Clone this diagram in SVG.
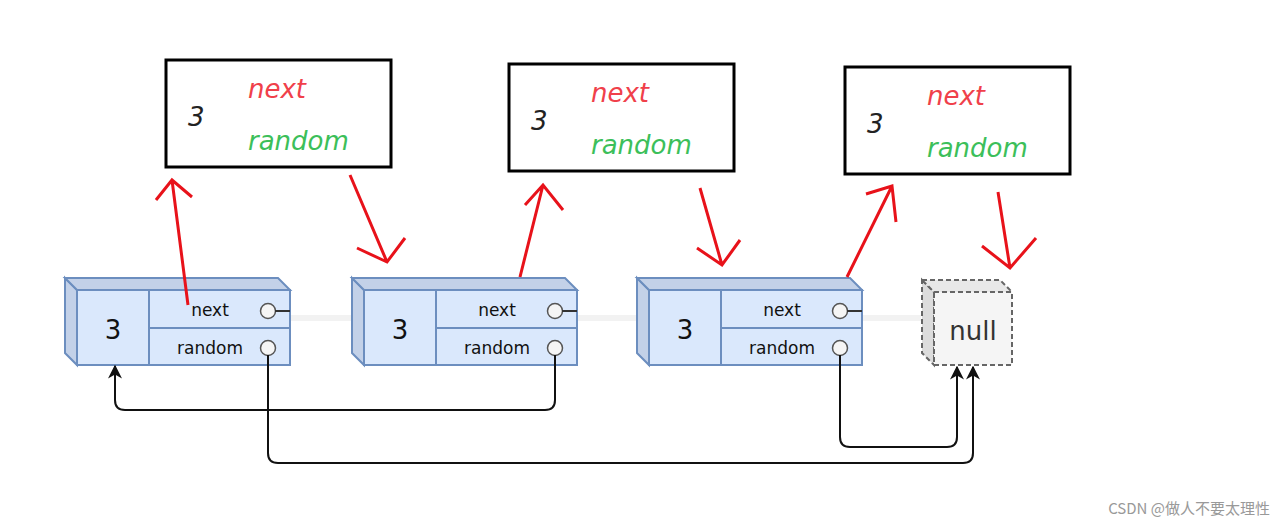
<svg xmlns="http://www.w3.org/2000/svg" width="1288" height="528" viewBox="0 0 1288 528">
<style>
.face{fill:#dae8fc;stroke:#6c8ebf;stroke-width:2}
.side{fill:#c3d1e8;stroke:#6c8ebf;stroke-width:2}
.pin{fill:#f5f5f5;stroke:#555;stroke-width:1.5}
.lbl{font-family:"DejaVu Sans",sans-serif;font-size:17px;fill:#111;text-anchor:middle}
.val{font-family:"DejaVu Sans",sans-serif;font-size:26px;fill:#111;text-anchor:middle}
.box{fill:#fff;stroke:#000;stroke-width:3}
.h{font-family:"DejaVu Sans",sans-serif;font-style:italic;font-size:26px}
.red{stroke:#e8121a;stroke-width:3;fill:none}
.blk{stroke:#111;stroke-width:2;fill:none}
</style>
<defs>
<marker id="ah" viewBox="0 0 10 10" refX="9" refY="5" markerWidth="7" markerHeight="7" orient="auto"><path d="M0,0 L10,5 L0,10 L3,5 z" fill="#111"/></marker>
<g id="node">
<path class="side" d="M0,0 L12,12 L12,87 L0,75 Z"/>
<path class="side" d="M0,0 L213,0 L225,12 L12,12 Z"/>
<rect class="face" x="12" y="12" width="72" height="75"/>
<rect class="face" x="84" y="12" width="141" height="38"/>
<rect class="face" x="84" y="50" width="141" height="37"/>
<text class="val" x="48" y="61">3</text>
<text class="lbl" x="145" y="38">next</text>
<text class="lbl" x="145" y="76">random</text>
<circle class="pin" cx="203" cy="33" r="7.5"/>
<circle class="pin" cx="203" cy="70" r="7.5"/>
</g>
<g id="card">
<rect class="box" x="0" y="0" width="225" height="107"/>
<text class="h" x="22" y="66" fill="#222">3</text>
<text class="h" x="82" y="38" fill="#f0404a">next</text>
<text class="h" x="82" y="90" fill="#3cbf5a">random</text>
</g>
</defs>
<g id="n1"><use href="#node" x="65" y="278"/></g>
<g id="n2"><use href="#node" x="352" y="278"/></g>
<g id="n3"><use href="#node" x="637" y="278"/></g>
<g id="null">
<path d="M922,280 L934,292 L934,365 L922,353 Z" fill="#dcdcdc" stroke="#666" stroke-width="2" stroke-dasharray="5,3"/>
<path d="M922,280 L1000,280 L1012,292 L934,292 Z" fill="#e8e8e8" stroke="#666" stroke-width="2" stroke-dasharray="5,3"/>
<rect x="934" y="292" width="78" height="73" fill="#f5f5f5" stroke="#666" stroke-width="2" stroke-dasharray="5,3"/>
<text x="973" y="340" font-family="DejaVu Sans,sans-serif" font-size="26" fill="#333" text-anchor="middle">null</text>
</g>
<g id="c1"><use href="#card" x="166" y="60"/></g>
<g id="c2"><use href="#card" x="509" y="64"/></g>
<g id="c3"><use href="#card" x="845" y="67"/></g>
<g id="connectors">
<path d="M275,311 H290 M562,311 H577 M847,311 H862" stroke="#333" stroke-width="2"/>
<path d="M291,318 H351 M578,318 H636 M863,318 H921" stroke="#f2f2f2" stroke-width="6"/>
<path class="blk" marker-end="url(#ah)" d="M555,355 V400 Q555,410 545,410 H125 Q115,410 115,400 V366"/>
<path class="blk" marker-end="url(#ah)" d="M268,355 V453 Q268,463 278,463 H963 Q973,463 973,453 V367"/>
<path class="blk" marker-end="url(#ah)" d="M840,355 V437 Q840,447 850,447 H947 Q957,447 957,437 V367"/>
<g class="red">
<path d="M188,305 L172,180 M156,200 L172,180 L192,197"/>
<path d="M350,175 L387,262 M357,248 L387,262 L405,238"/>
<path d="M520,277 L543,185 M525,205 L543,185 L563,210"/>
<path d="M700,188 L722,265 M697,248 L722,265 L740,240"/>
<path d="M847,277 L892,186 M866,194 L892,186 L896,222"/>
<path d="M998,192 L1010,268 M982,246 L1010,268 L1036,238"/>
</g>
</g>
<text x="1270" y="514" font-family="Noto Sans CJK SC,sans-serif" font-size="15" fill="#999" text-anchor="end">CSDN @做人不要太理性</text>
</svg>
